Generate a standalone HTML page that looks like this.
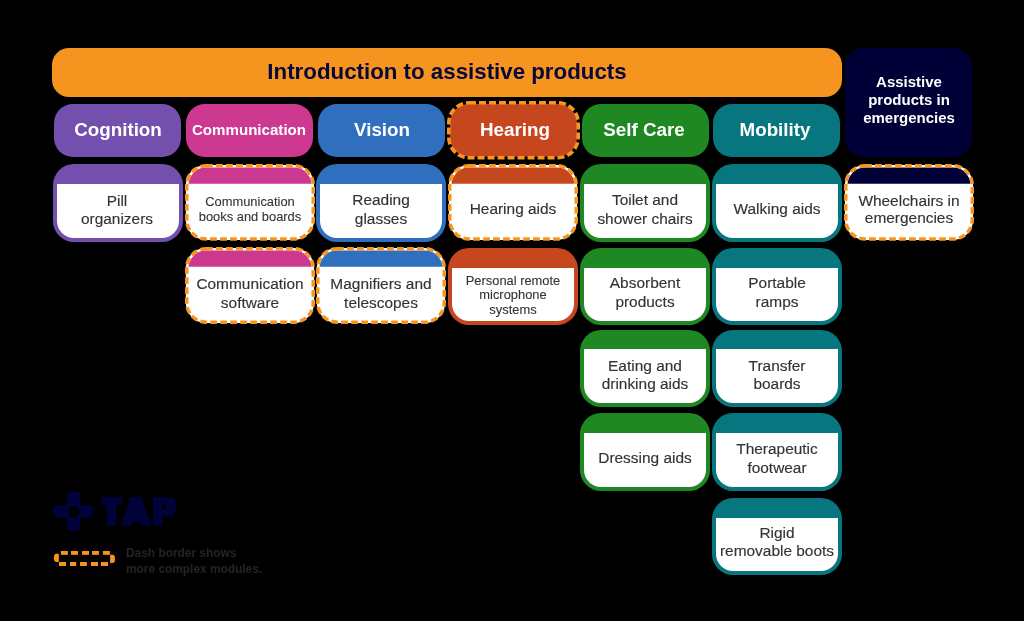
<!DOCTYPE html>
<html><head><meta charset="utf-8"><style>
html,body{margin:0;padding:0;}
body{width:1024px;height:621px;background:#000;position:relative;overflow:hidden;font-family:"Liberation Sans",sans-serif;}
.a{position:absolute;box-sizing:border-box;}
.ln{position:absolute;line-height:20px;height:20px;text-align:center;white-space:nowrap;will-change:transform;}
.ct{-webkit-text-stroke:0.15px #333;}
.cs{-webkit-text-stroke:0.1px #333;}
.hdr{left:52px;top:48px;width:790px;height:48.7px;border-radius:17px;background:#F5941F;}
.emg{top:48px;width:127px;height:108.5px;border-radius:19px;background:#000036;}
.cat{top:104px;height:52.5px;width:127px;border-radius:19px;}
.card{width:130px;border-radius:21px;}
.card .w{position:absolute;left:4px;right:4px;top:19.7px;bottom:4px;background:#fff;border-radius:0 0 17px 17px;}
svg{position:absolute;left:0;top:0;overflow:visible;}
</style></head><body>

<div class="a hdr"></div>
<div class="ln" style="left:147px;top:62.27px;width:600px;font-size:22.3px;color:#07073a;font-weight:bold;">Introduction to assistive products</div>
<div class="a emg" style="left:845.18px"></div>
<div class="ln" style="left:808.68px;top:71.6px;width:200px;font-size:15.0px;color:#fff;font-weight:bold;">Assistive</div>
<div class="ln" style="left:808.68px;top:89.8px;width:200px;font-size:15.0px;color:#fff;font-weight:bold;">products in</div>
<div class="ln" style="left:808.68px;top:107.6px;width:200px;font-size:15.0px;color:#fff;font-weight:bold;">emergencies</div>
<div class="a cat" style="left:54.2px;background:#7450AE;"></div>
<div class="ln" style="left:17.7px;top:120.09px;width:200px;font-size:18.8px;color:#fff;font-weight:bold;">Cognition</div>
<div class="a cat" style="left:186.03px;background:#CD3891;"></div>
<div class="ln" style="left:149.23px;top:120.17px;width:200px;font-size:15.1px;color:#fff;font-weight:bold;">Communication</div>
<div class="a cat" style="left:317.86px;background:#2F6FBE;"></div>
<div class="ln" style="left:281.86px;top:120.09px;width:200px;font-size:18.8px;color:#fff;font-weight:bold;">Vision</div>
<svg class="a" style="left:445.69px;top:100px;" width="135" height="60.5"><rect x="4" y="4" width="127" height="52.5" rx="19" fill="#C6471E"/><rect x="2.8" y="2.8" width="129.4" height="54.9" rx="20.2" fill="none" stroke="#F7951F" stroke-width="3.6" stroke-dasharray="7 3"/></svg>
<div class="ln" style="left:414.69px;top:119.99px;width:200px;font-size:18.8px;color:#fff;font-weight:bold;">Hearing</div>
<div class="a cat" style="left:581.52px;background:#208822;"></div>
<div class="ln" style="left:544.32px;top:120.19px;width:200px;font-size:18.8px;color:#fff;font-weight:bold;">Self Care</div>
<div class="a cat" style="left:713.35px;background:#08767F;"></div>
<div class="ln" style="left:675.35px;top:120.09px;width:200px;font-size:18.8px;color:#fff;font-weight:bold;">Mobility</div>
<div class="a card" style="left:52.7px;top:163.9px;height:78px;background:#7450AE;"><div class="w"></div></div>
<div class="ln ct" style="left:16.9px;top:190.65px;width:200px;font-size:15.45px;color:#333333;">Pill</div>
<div class="ln ct" style="left:16.9px;top:208.85px;width:200px;font-size:15.45px;color:#333333;">organizers</div>
<svg class="a" style="left:184.53px;top:163.9px;" width="130" height="76.8"><rect x="0.9" y="0.9" width="128.2" height="75" rx="20.1" fill="#fff"/><path d="M3.5 19.7 V21 A17.5 17.5 0 0 1 21 3.5 H109 A17.5 17.5 0 0 1 126.5 21 V19.7 Z" fill="#CD3891"/><rect x="1.75" y="1.75" width="126.5" height="73.3" rx="19.25" fill="none" stroke="#F7951F" stroke-width="3.5" stroke-dasharray="6.8 3.2"/></svg>
<div class="ln cs" style="left:149.53px;top:191.73px;width:200px;font-size:12.9px;color:#333333;">Communication</div>
<div class="ln cs" style="left:149.53px;top:206.53px;width:200px;font-size:12.9px;color:#333333;">books and boards</div>
<svg class="a" style="left:184.53px;top:247.1px;" width="130" height="76.9"><rect x="0.9" y="0.9" width="128.2" height="75.1" rx="20.1" fill="#fff"/><path d="M3.5 19.7 V21 A17.5 17.5 0 0 1 21 3.5 H109 A17.5 17.5 0 0 1 126.5 21 V19.7 Z" fill="#CD3891"/><rect x="1.75" y="1.75" width="126.5" height="73.4" rx="19.25" fill="none" stroke="#F7951F" stroke-width="3.5" stroke-dasharray="6.8 3.2"/></svg>
<div class="ln ct" style="left:149.53px;top:274.45px;width:200px;font-size:15.45px;color:#333333;">Communication</div>
<div class="ln ct" style="left:149.53px;top:292.75px;width:200px;font-size:15.45px;color:#333333;">software</div>
<div class="a card" style="left:316.36px;top:163.9px;height:78px;background:#2F6FBE;"><div class="w"></div></div>
<div class="ln ct" style="left:281.36px;top:190.35px;width:200px;font-size:15.45px;color:#333333;">Reading</div>
<div class="ln ct" style="left:281.36px;top:208.65px;width:200px;font-size:15.45px;color:#333333;">glasses</div>
<svg class="a" style="left:316.36px;top:247.1px;" width="130" height="76.9"><rect x="0.9" y="0.9" width="128.2" height="75.1" rx="20.1" fill="#fff"/><path d="M3.5 19.7 V21 A17.5 17.5 0 0 1 21 3.5 H109 A17.5 17.5 0 0 1 126.5 21 V19.7 Z" fill="#2F6FBE"/><rect x="1.75" y="1.75" width="126.5" height="73.4" rx="19.25" fill="none" stroke="#F7951F" stroke-width="3.5" stroke-dasharray="6.8 3.2"/></svg>
<div class="ln ct" style="left:281.36px;top:274.45px;width:200px;font-size:15.45px;color:#333333;">Magnifiers and</div>
<div class="ln ct" style="left:281.36px;top:292.75px;width:200px;font-size:15.45px;color:#333333;">telescopes</div>
<svg class="a" style="left:448.19px;top:163.9px;" width="130" height="76.8"><rect x="0.9" y="0.9" width="128.2" height="75" rx="20.1" fill="#fff"/><path d="M3.5 19.7 V21 A17.5 17.5 0 0 1 21 3.5 H109 A17.5 17.5 0 0 1 126.5 21 V19.7 Z" fill="#C6471E"/><rect x="1.75" y="1.75" width="126.5" height="73.3" rx="19.25" fill="none" stroke="#F7951F" stroke-width="3.5" stroke-dasharray="6.8 3.2"/></svg>
<div class="ln ct" style="left:413.19px;top:199.15px;width:200px;font-size:15.45px;color:#333333;">Hearing aids</div>
<div class="a card" style="left:448.19px;top:247.9px;height:77.2px;background:#C6471E;"><div class="w"></div></div>
<div class="ln cs" style="left:413.19px;top:270.73px;width:200px;font-size:12.9px;color:#333333;">Personal remote</div>
<div class="ln cs" style="left:413.19px;top:285.03px;width:200px;font-size:12.9px;color:#333333;">microphone</div>
<div class="ln cs" style="left:413.19px;top:299.53px;width:200px;font-size:12.9px;color:#333333;">systems</div>
<div class="a card" style="left:580.02px;top:163.9px;height:78px;background:#208822;"><div class="w"></div></div>
<div class="ln ct" style="left:545.02px;top:190.35px;width:200px;font-size:15.45px;color:#333333;">Toilet and</div>
<div class="ln ct" style="left:545.02px;top:208.65px;width:200px;font-size:15.45px;color:#333333;">shower chairs</div>
<div class="a card" style="left:580.02px;top:247.9px;height:77.2px;background:#208822;"><div class="w"></div></div>
<div class="ln ct" style="left:545.02px;top:273.45px;width:200px;font-size:15.45px;color:#333333;">Absorbent</div>
<div class="ln ct" style="left:545.02px;top:291.55px;width:200px;font-size:15.45px;color:#333333;">products</div>
<div class="a card" style="left:580.02px;top:329.5px;height:77.5px;background:#208822;"><div class="w"></div></div>
<div class="ln ct" style="left:545.02px;top:356.35px;width:200px;font-size:15.45px;color:#333333;">Eating and</div>
<div class="ln ct" style="left:545.02px;top:374.25px;width:200px;font-size:15.45px;color:#333333;">drinking aids</div>
<div class="a card" style="left:580.02px;top:413.3px;height:77.7px;background:#208822;"><div class="w"></div></div>
<div class="ln ct" style="left:545.02px;top:447.85px;width:200px;font-size:15.45px;color:#333333;">Dressing aids</div>
<div class="a card" style="left:711.85px;top:163.9px;height:78px;background:#08767F;"><div class="w"></div></div>
<div class="ln ct" style="left:676.85px;top:198.85px;width:200px;font-size:15.45px;color:#333333;">Walking aids</div>
<div class="a card" style="left:711.85px;top:247.9px;height:77.2px;background:#08767F;"><div class="w"></div></div>
<div class="ln ct" style="left:676.85px;top:273.45px;width:200px;font-size:15.45px;color:#333333;">Portable</div>
<div class="ln ct" style="left:676.85px;top:291.55px;width:200px;font-size:15.45px;color:#333333;">ramps</div>
<div class="a card" style="left:711.85px;top:329.5px;height:77.5px;background:#08767F;"><div class="w"></div></div>
<div class="ln ct" style="left:676.85px;top:355.65px;width:200px;font-size:15.45px;color:#333333;">Transfer</div>
<div class="ln ct" style="left:676.85px;top:374.25px;width:200px;font-size:15.45px;color:#333333;">boards</div>
<div class="a card" style="left:711.85px;top:413.3px;height:77.7px;background:#08767F;"><div class="w"></div></div>
<div class="ln ct" style="left:676.85px;top:439.35px;width:200px;font-size:15.45px;color:#333333;">Therapeutic</div>
<div class="ln ct" style="left:676.85px;top:457.75px;width:200px;font-size:15.45px;color:#333333;">footwear</div>
<div class="a card" style="left:711.85px;top:498.1px;height:77px;background:#08767F;"><div class="w"></div></div>
<div class="ln ct" style="left:676.85px;top:522.55px;width:200px;font-size:15.45px;color:#333333;">Rigid</div>
<div class="ln ct" style="left:676.85px;top:541.25px;width:200px;font-size:15.45px;color:#333333;">removable boots</div>
<svg class="a" style="left:843.68px;top:163.9px;" width="130" height="76.8"><rect x="0.9" y="0.9" width="128.2" height="75" rx="20.1" fill="#fff"/><path d="M3.5 19.7 V21 A17.5 17.5 0 0 1 21 3.5 H109 A17.5 17.5 0 0 1 126.5 21 V19.7 Z" fill="#000036"/><rect x="1.75" y="1.75" width="126.5" height="73.3" rx="19.25" fill="none" stroke="#F7951F" stroke-width="3.5" stroke-dasharray="6.8 3.2"/></svg>
<div class="ln ct" style="left:808.68px;top:190.55px;width:200px;font-size:15.45px;color:#333333;">Wheelchairs in</div>
<div class="ln ct" style="left:808.68px;top:208.45px;width:200px;font-size:15.45px;color:#333333;">emergencies</div>
<svg class="a" style="left:0;top:0;" width="1024" height="621">
<path fill="#02023a" d="M71 491.9 H76.1 Q80.1 491.9 80.1 495.9 V505 H88.9 Q92.9 505 92.9 509 V513.8 Q92.9 517.8 88.9 517.8 H80.1 V526.9 Q80.1 530.9 76.1 530.9 H71 Q67 530.9 67 526.9 V517.8 H57.9 Q53.9 517.8 53.9 513.8 V509 Q53.9 505 57.9 505 H67 V495.9 Q67 491.9 71 491.9 Z"/>
<circle cx="73.5" cy="511.6" r="5.7" fill="#000"/>
<path fill="#02023a" d="M101.2 497 H122 V505 H116.2 V525.7 H107 V505 H101.2 Z"/>
<path fill="#02023a" fill-rule="evenodd" d="M130.7 497 H141.1 L151.9 525.7 H141.5 L140 521.5 H132.6 L131.1 525.7 H121.1 Z M134.5 514.2 H137.4 L136 509.5 Z"/>
<path fill="#02023a" fill-rule="evenodd" d="M153.1 497 H168.4 Q175.9 497 175.9 504.5 V509.1 Q175.9 516.6 168.4 516.6 H162.2 V525.7 H153.1 Z M162.4 504.6 H164.8 Q166.5 504.6 166.5 507 Q166.5 509.4 164.8 509.4 H162.4 Z"/>
<g fill="#F7941E">
<rect x="60.9" y="551" width="7" height="3.8"/><rect x="71" y="551" width="7" height="3.8"/><rect x="82" y="551" width="7" height="3.8"/><rect x="92" y="551" width="7" height="3.8"/><rect x="102.9" y="551" width="7" height="3.8"/>
<rect x="59" y="562" width="7" height="4"/><rect x="70" y="562" width="6.2" height="4"/><rect x="80" y="562" width="6.9" height="4"/><rect x="91" y="562" width="7" height="4"/><rect x="101" y="562" width="7" height="4"/>
<path d="M58.8 553.8 V561.9 H56.5 Q53.9 561.9 53.9 558 V557.6 Q53.9 553.8 56.5 553.8 Z"/>
<path d="M110.1 554.8 H112.6 Q115 554.8 115 558.8 V559 Q115 562.9 112.6 562.9 H110.1 Z"/>
</g>
</svg>
<div class="ln" style="text-align:left;left:126px;top:543.18px;width:120px;font-size:11.9px;color:#242424;font-weight:bold;">Dash border shows</div>
<div class="ln" style="text-align:left;left:126px;top:559.28px;width:140px;font-size:11.9px;color:#242424;font-weight:bold;">more complex modules.</div>
</body></html>
